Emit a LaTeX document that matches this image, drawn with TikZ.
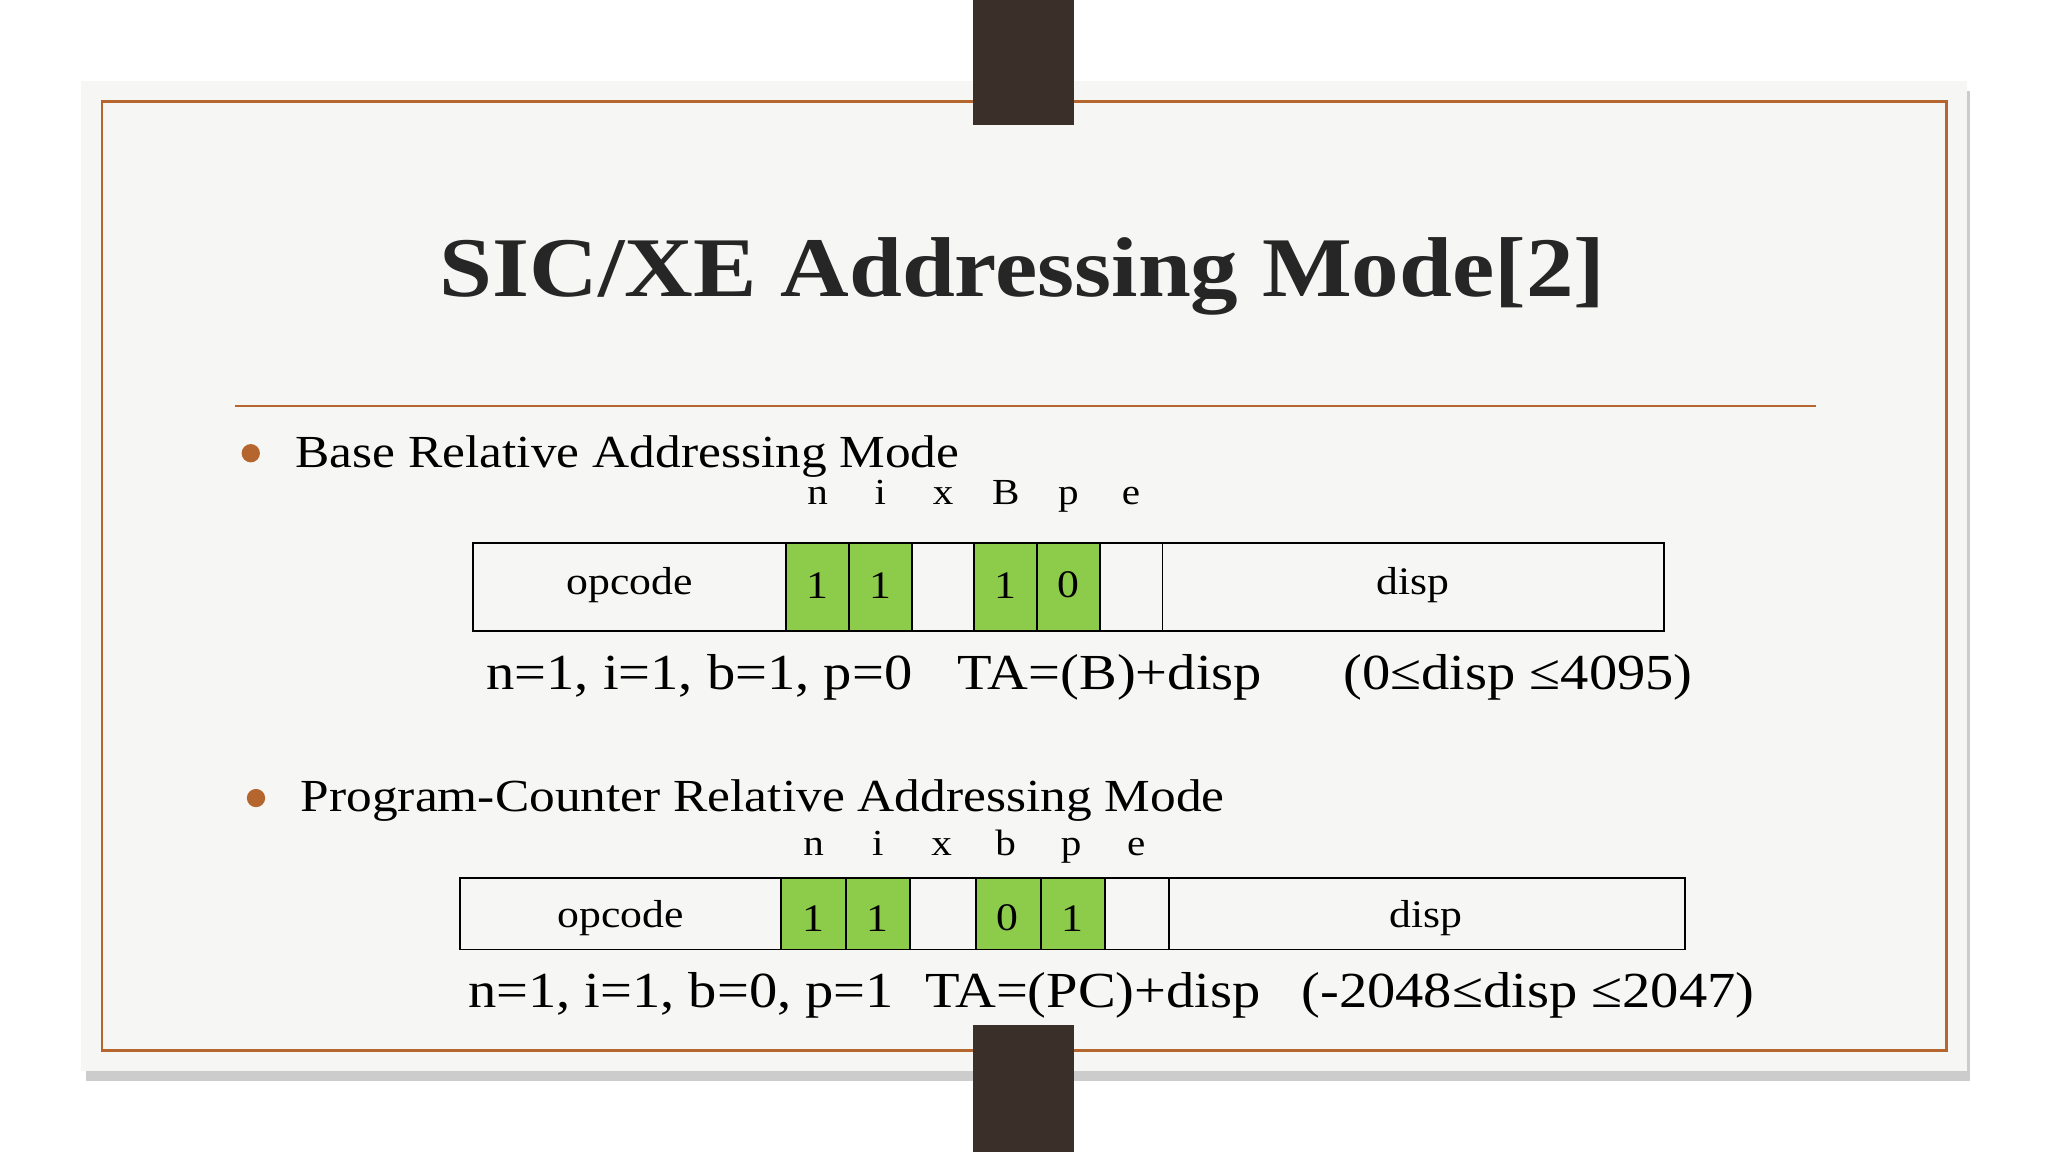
\documentclass[tikz,border=0pt]{standalone}
\usepackage{fontspec}
\setmainfont{Liberation Serif}[FakeStretch=1.12]
\definecolor{rust}{HTML}{B5652E}
\definecolor{clipc}{HTML}{3A2F29}
\definecolor{grn}{HTML}{8DCB4B}
\definecolor{card}{HTML}{F6F6F5}
\tikzset{
 bit/.style={font=\fontsize{16}{18}\selectfont,inner sep=1pt},
 body/.style={font=\fontsize{22}{25}\selectfont,anchor=base west,inner sep=0pt},
 head/.style={font=\fontsize{20}{23}\selectfont,anchor=base west,inner sep=0pt},
 cellt/.style={font=\fontsize{17}{20}\selectfont}
}
\begin{document}
\begin{tikzpicture}[x=0.02cm,y=-0.02cm]
\useasboundingbox (0,0) rectangle (1568,882);
\fill[white] (0,0) rectangle (1568,882);
\fill[black!20] (66,70) rectangle (1508,828);
\fill[card] (62,62) rectangle (1506,820);
\draw[rust,line width=1.2pt] (78,78) rectangle (1490,804);
\fill[clipc] (745,0) rectangle (822,96);
\fill[clipc] (745,785) rectangle (822,882);
\node[font=\bfseries\fontsize{37}{42}\selectfont,text=black!85] (title) at (783,212) {SIC/XE Addressing Mode[2]};
\draw[rust,line width=1pt] (180,311) -- (1390,311);
% bullet 1
\fill[rust] (192,347) circle (7);
\node[head] (h1) at (226,358) {Base Relative Addressing Mode};
\foreach \t/\x in {n/626,i/674,x/722,B/770,p/818,e/866}
  \node[bit,anchor=base] (l1\t) at (\x,386) {\t};
\fill[grn] (602,416) rectangle (698,483);
\fill[grn] (746,416) rectangle (842,483);
\draw[line width=0.8pt] (362,416) rectangle (1274,483);
\foreach \x in {602,650,698,746,794,842,890} \draw[line width=0.8pt] (\x,416) -- (\x,483);
\node[cellt] (op1) at (482,448) {opcode};
\node[cellt] (a1) at (626,448) {1};
\node[cellt] (b1) at (674,448) {1};
\node[cellt] (c1) at (770,448) {1};
\node[cellt] (d1) at (818,448) {0};
\node[cellt] (dp1) at (1082,448) {disp};
\node[body] (r1a) at (372,528) {n=1, i=1, b=1, p=0};
\node[body] (r1b) at (733,528) {TA=(B)+disp};
\node[body] (r1c) at (1028,528) {(0≤disp ≤4095)};
% bullet 2
\fill[rust] (196,611) circle (7);
\node[head] (h2) at (230,621) {Program-Counter Relative Addressing Mode};
\foreach \t/\x in {n/623,i/672,x/721,b/770,p/820,e/870}
  \node[bit,anchor=base] (l2\t) at (\x,655) {\t};
\fill[grn] (598,672) rectangle (697,727);
\fill[grn] (747,672) rectangle (846,727);
\draw[line width=0.8pt] (352,672) rectangle (1290,727);
\foreach \x in {598,648,697,747,797,846,895} \draw[line width=0.8pt] (\x,672) -- (\x,727);
\node[cellt] (op2) at (475,703) {opcode};
\node[cellt] (a2) at (623,703) {1};
\node[cellt] (b2) at (672,703) {1};
\node[cellt] (c2) at (771,703) {0};
\node[cellt] (d2) at (821,703) {1};
\node[cellt] (dp2) at (1092,703) {disp};
\node[body] (r2a) at (358,771) {n=1, i=1, b=0, p=1};
\node[body] (r2b) at (708,771) {TA=(PC)+disp};
\node[body] (r2c) at (996,771) {(-2048≤disp ≤2047)};
\end{tikzpicture}
\end{document}
